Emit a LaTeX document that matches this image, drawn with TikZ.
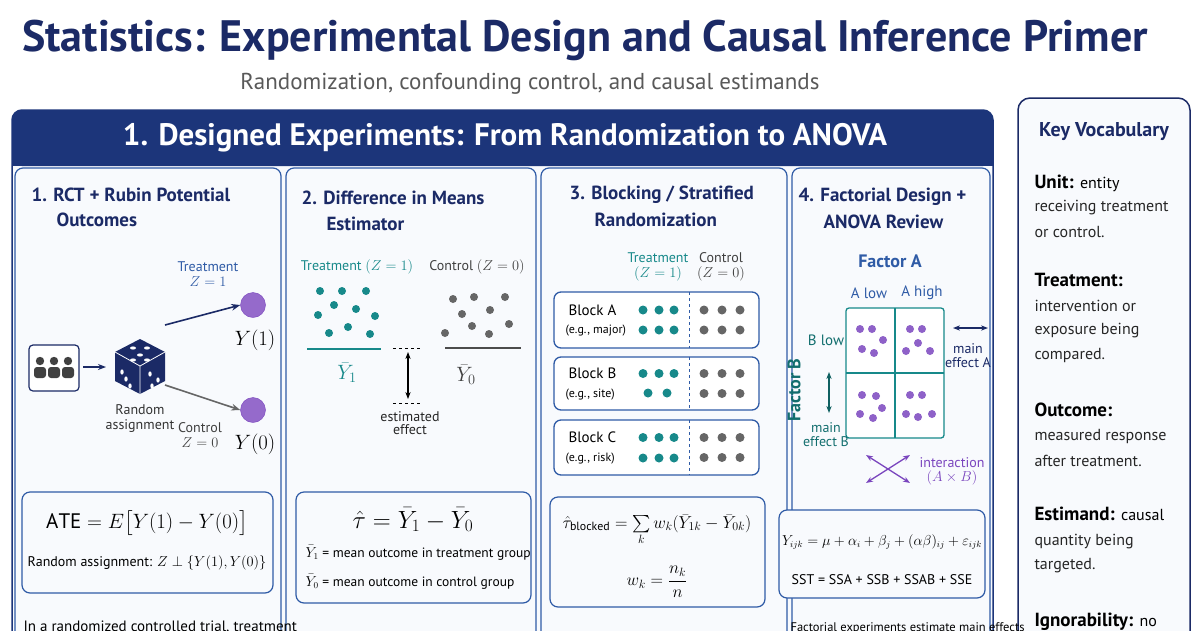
\documentclass[tikz,border=0pt]{standalone}
\usepackage{amsmath}
\usepackage{fontspec}
\setmainfont{PT Sans}
\usetikzlibrary{arrows.meta,positioning}
\definecolor{navy}{HTML}{1B2A66}
\definecolor{barblue}{HTML}{1C357A}
\definecolor{edgeblue}{HTML}{2F5BA6}
\definecolor{teal}{HTML}{17898A}
\definecolor{dgray}{HTML}{666666}
\definecolor{purp}{HTML}{7A45BE}
\definecolor{pale}{HTML}{F8FAFD}
\tikzset{
  panel/.style={draw=edgeblue, line width=1.2pt, fill=pale, rounded corners=8pt},
  fbox/.style={draw=edgeblue, line width=1.2pt, fill=pale, rounded corners=8pt},
  ptitle/.style={font=\fontsize{19}{23}\selectfont\bfseries, text=navy, anchor=west},
  lab/.style={font=\fontsize{14}{16}\selectfont, align=center},
  vterm/.style={font=\fontsize{19}{22}\selectfont\bfseries, anchor=west},
  vtext/.style={font=\fontsize{16}{20}\selectfont, anchor=west, text=black!85},
  tdot/.style={circle, fill=teal, inner sep=0pt, minimum size=9pt},
  gdot/.style={circle, fill=dgray, inner sep=0pt, minimum size=9pt},
  pdot/.style={circle, fill=purp!85, inner sep=0pt, minimum size=8pt},
}
\begin{document}
\begin{tikzpicture}[x=1pt, y=-1pt]
\useasboundingbox (0,0) rectangle (1200,630);
\fill[white] (0,0) rectangle (1200,630);
% title
\node (title) at (585,40) {\fontsize{44}{48}\selectfont\bfseries\color{navy}Statistics: Experimental Design and Causal Inference Primer};
\node (subtitle) at (530,84) {\fontsize{23}{26}\selectfont\color{black!65}Randomization, confounding control, and causal estimands};
% main section
\draw[draw=barblue, line width=1.5pt, fill=pale, rounded corners=10pt] (12,110) rectangle (993,700);
\fill[barblue, rounded corners=10pt] (12,110) rectangle (993,166);
\fill[barblue] (12,150) rectangle (993,166);
\node (head) at (505,138) {\fontsize{31}{34}\selectfont\bfseries\color{white}1. Designed Experiments: From Randomization to ANOVA};
\draw[panel] (15,168) rectangle (281,700);
\draw[panel] (286,168) rectangle (536,700);
\draw[panel] (541,168) rectangle (787,700);
\draw[panel] (792,168) rectangle (990,700);
% vocabulary
\draw[draw=navy, line width=1.5pt, fill=pale, rounded corners=12pt] (1018,98) rectangle (1190,700);

% ---- panel 1
\node[ptitle] (t1a) at (28,195) {1. RCT + Rubin Potential};
\node[ptitle] (t1b) at (53,220) {Outcomes};
\draw[draw=navy, line width=1.2pt, fill=white, rounded corners=4pt] (29,345) rectangle (79,391);
\foreach \px in {40,54,68}{
  \fill[black!75] (\px,361) circle (4.2pt);
  \fill[black!75, rounded corners=3pt] (\px-6,378) rectangle (\px+6,367);
}
\coordinate (grp) at (83,367);
% dice
\coordinate (die) at (140,366);
\fill[navy] (140,339) -- (165,352) -- (165,381) -- (140,394) -- (115,381) -- (115,352) -- cycle;
\draw[white, line width=0.8pt] (115,352) -- (140,366) -- (165,352) (140,366) -- (140,394);
\foreach \qx/\qy in {133/348,147/348,140/355,133/360,147/360}{
  \fill[white] (\qx,\qy) ellipse (3pt and 1.6pt);}
\foreach \qx/\qy in {122/372,130/386,126/379,150/374,158/380,152/386}{
  \fill[white] (\qx,\qy) ellipse (1.7pt and 2.6pt);}
\draw[-{Stealth[length=8pt]}, navy, line width=1.6pt] (grp) -- (106,367);
\node[circle, fill=purp!80, draw=purp, minimum size=25pt, inner sep=0pt] (y1) at (253,305) {};
\node[circle, fill=purp!80, draw=purp, minimum size=25pt, inner sep=0pt] (y0) at (253,410) {};
\draw[-{Stealth[length=9pt]}, navy, line width=1.6pt] (165,325) -- (y1.west);
\draw[-{Stealth[length=9pt]}, dgray, line width=1.6pt] (165,385) -- (y0.west);
\node[font=\fontsize{20}{22}\selectfont] (ly1) at (255,340) {$Y(1)$};
\node[font=\fontsize{20}{22}\selectfont] (ly0) at (255,444) {$Y(0)$};
\node[lab, text=edgeblue] (trt1) at (208,274) {Treatment\\[-1pt]$Z=1$};
\node[lab, text=black!80] (rand) at (140,419) {Random\\[-1pt]assignment};
\node[lab, text=black!75] (ctl1) at (200,435) {Control\\[-1pt]$Z=0$};
\draw[fbox] (22,492) rectangle (273,593);
\node[font=\fontsize{21}{24}\selectfont] (ate) at (147,523) {$\mathrm{ATE}=E\big[Y(1)-Y(0)\big]$};
\node[font=\fontsize{14}{16}\selectfont] (ra) at (147,563) {Random assignment: $Z\perp\{Y(1),Y(0)\}$};
\node[anchor=west, font=\fontsize{15}{17}\selectfont] (n1) at (20,627) {In a randomized controlled trial, treatment};

% ---- panel 2
\node[ptitle] (t2a) at (298,198) {2. Difference in Means};
\node[ptitle] (t2b) at (323,224) {Estimator};
\node[lab, text=teal] (trt2) at (357,267) {Treatment $(Z=1)$};
\node[lab, text=black!75] (ctl2) at (477,267) {Control $(Z=0)$};
\foreach \qx/\qy in {320/291,342/291,366/291,334/305,356/309,318/315,375/316,348/327,329/333,370/334}
  \node[tdot, minimum size=8pt] at (\qx,\qy) {};
\foreach \qx/\qy in {453/299,474/297,505/297,490/310,462/314,509/324,472/326,445/333,489/334}
  \node[gdot, minimum size=8pt] at (\qx,\qy) {};
\draw[teal, line width=2.5pt] (307,349) -- (381,349);
\draw[black!70, line width=2.5pt] (445,348) -- (521,348);
\draw[dashed, line width=1pt] (393,348) -- (420,348) (393,403) -- (420,403);
\coordinate (eTop) at (408,352);
\coordinate (eBot) at (408,399);
\draw[{Stealth[length=7pt]}-{Stealth[length=7pt]}, line width=1.2pt] (eTop) -- (eBot);
\node[lab, text=black!85] (est) at (410,423) {estimated\\[-3pt]effect};
\node[font=\fontsize{22}{24}\selectfont, text=teal] (yb1) at (347,373) {$\bar Y_1$};
\node[font=\fontsize{22}{24}\selectfont, text=black!75] (yb0) at (466,375) {$\bar Y_0$};
\draw[fbox] (296,492) rectangle (531,603);
\node[font=\fontsize{24}{26}\selectfont] (tau) at (413,520) {$\hat\tau=\bar Y_1-\bar Y_0$};
\node[anchor=west, font=\fontsize{13.5}{15}\selectfont] (m1) at (302,553) {$\bar Y_1$ = mean outcome in treatment group};
\node[anchor=west, font=\fontsize{13.5}{15}\selectfont] (m0) at (302,582) {$\bar Y_0$ = mean outcome in control group};

% ---- panel 3
\node[ptitle] (t3a) at (566,195) {3. Blocking / Stratified};
\node[ptitle] (t3b) at (591,220) {Randomization};
\node[lab, text=teal] (trt3) at (658,267) {Treatment\\[-1pt]$(Z=1)$};
\node[lab, text=black!75] (ctl3) at (721,267) {Control\\[-1pt]$(Z=0)$};
\foreach \bn/\bt/\bb/\nm/\ex in {A/292/348/Block A/{(e.g., major)},B/357/410/Block B/{(e.g., site)},C/420/475/Block C/{(e.g., risk)}}{
  \draw[draw=edgeblue, line width=1.3pt, fill=white, rounded corners=7pt] (554,\bt) rectangle (759,\bb);
  \draw[dashed, edgeblue, line width=1pt] (689,\bt) -- (689,\bb);
  \node[font=\fontsize{15}{17}\selectfont, anchor=west] (blk\bn) at (565,{(\bt+\bb)/2-10}) {\nm};
  \node[font=\fontsize{12}{14}\selectfont, anchor=west] (ex\bn) at (562,{(\bt+\bb)/2+11}) {\ex};
  \foreach \gx in {704,722,740}{
    \node[gdot] at (\gx,{(\bt+\bb)/2-10}) {};
    \node[gdot] at (\gx,{(\bt+\bb)/2+10}) {};}
  \foreach \gx in {643,659,674}
    \node[tdot] at (\gx,{(\bt+\bb)/2-10}) {};
}
\foreach \gx in {643,659,674}{
  \node[tdot] at (\gx,330) {};
  \node[tdot] at (\gx,458) {};}
\node[tdot] at (648,393) {};
\node[tdot] at (667,393) {};

% ---- panel 4
\node[ptitle] (t4a) at (795,197) {4. Factorial Design +};
\node[ptitle] (t4b) at (820,222) {ANOVA Review};
\node[font=\fontsize{18}{21}\selectfont\bfseries, text=edgeblue] (fa) at (890,261) {Factor A};
\node[font=\fontsize{15}{17}\selectfont, text=edgeblue] (alo) at (869,293) {A low};
\node[font=\fontsize{15}{17}\selectfont, text=edgeblue] (ahi) at (922,293) {A high};
\draw[teal, line width=1.3pt, fill=white, rounded corners=3pt] (846,308) rectangle (944,438);
\draw[teal, line width=1.3pt] (895,308) -- (895,438) (846,373) -- (944,373);
\foreach \cx/\cy in {860/329,872/329,883/340,862/349,874/353,
                     910/329,922/329,918/343,906/351,930/351,
                     862/395,876/396,882/408,860/414,873/418,
                     910/395,922/395,906/414,918/417,932/414}
  \node[pdot] at (\cx,\cy) {};
\node[font=\fontsize{15}{17}\selectfont, text=teal!80!black] (blo) at (826,340) {B low};
\node[font=\fontsize{18}{21}\selectfont\bfseries, text=teal!80!black, rotate=90] (fb) at (794,390) {Factor B};
\coordinate (bTop) at (829,372);
\coordinate (bBot) at (829,413);
\draw[{Stealth[length=7pt]}-{Stealth[length=7pt]}, teal!70!black, line width=1.6pt] (bTop) -- (bBot);
\node[lab, text=teal!80!black] (meb) at (826,435) {main\\[-2pt]effect B};
\coordinate (aL) at (953,328);
\coordinate (aR) at (988,328);
\draw[{Stealth[length=7pt]}-{Stealth[length=7pt]}, navy, line width=1.6pt] (aL) -- (aR);
\node[lab, text=navy] (mea) at (968,356) {main\\[-2pt]effect A};
\coordinate (x1) at (866,455);
\coordinate (x2) at (910,483);
\coordinate (x3) at (866,483);
\coordinate (x4) at (910,455);
\draw[{Stealth[length=7pt]}-{Stealth[length=7pt]}, purp, line width=1.3pt] (x1) -- (x2);
\draw[{Stealth[length=7pt]}-{Stealth[length=7pt]}, purp, line width=1.3pt] (x3) -- (x4);
\node[lab, text=purp] (inter) at (952,471) {interaction\\[-2pt]$(A\times B)$};
\draw[fbox] (779,510) rectangle (985,598);
\node[font=\fontsize{13.5}{16}\selectfont] (lin) at (882,542) {$Y_{ijk}=\mu+\alpha_i+\beta_j+(\alpha\beta)_{ij}+\varepsilon_{ijk}$};
\node[font=\fontsize{14}{16}\selectfont] (sst) at (882,580) {SST = SSA + SSB + SSAB + SSE};
\node[anchor=west, font=\fontsize{12.5}{15}\selectfont] (n4) at (787,628) {Factorial experiments estimate main effects};

% blocked estimator box
\draw[fbox] (550,497) rectangle (765,607);
\node[font=\fontsize{17}{20}\selectfont] (tb) at (657,530) {$\hat\tau_{\mathrm{blocked}}=\sum\limits_k w_k(\bar Y_{1k}-\bar Y_{0k})$};
\node[font=\fontsize{17}{20}\selectfont] (wk) at (657,582) {$w_k=\dfrac{n_k}{n}$};

% ---- vocabulary
\node[font=\fontsize{20}{23}\selectfont\bfseries, text=navy] (kv) at (1104,132) {Key Vocabulary};
\node[vterm] (vu) at (1031,183) {Unit: \fontsize{16}{20}\selectfont\mdseries entity};
\node[vtext] at (1031,208) {receiving treatment};
\node[vtext] at (1031,232) {or control.};
\node[vterm] (vt) at (1031,280) {Treatment:};
\node[vtext] at (1031,306) {intervention or};
\node[vtext] at (1031,331) {exposure being};
\node[vtext] at (1031,355) {compared.};
\node[vterm] (vo) at (1031,410) {Outcome:};
\node[vtext] at (1031,436) {measured response};
\node[vtext] at (1031,461) {after treatment.};
\node[vterm] (ve) at (1031,514) {Estimand: \fontsize{16}{20}\selectfont\mdseries causal};
\node[vtext] at (1031,542) {quantity being};
\node[vtext] at (1031,566) {targeted.};
\node[vterm] (vi) at (1031,622) {Ignorability: \fontsize{16}{20}\selectfont\mdseries no};
\end{tikzpicture}
\end{document}
